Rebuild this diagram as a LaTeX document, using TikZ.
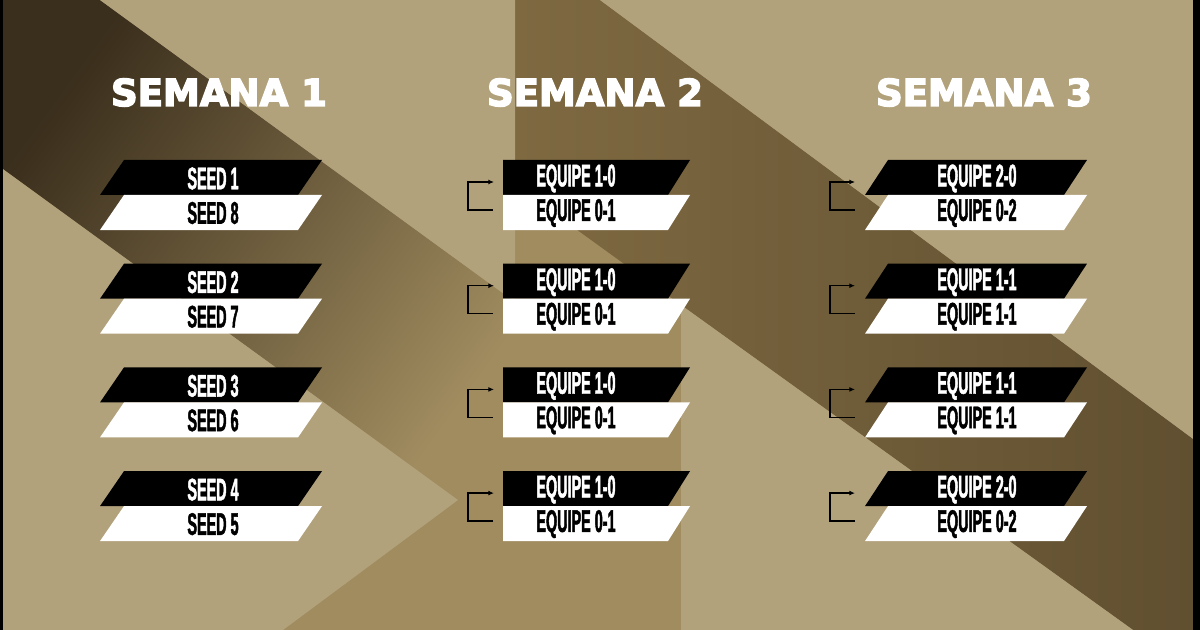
\documentclass[tikz,border=0pt]{standalone}
\usepackage{fontspec}
\usepackage{tikz}
\usetikzlibrary{arrows.meta, calc}
\newfontfamily\headfont[FakeBold=4]{DejaVu Sans Bold}
\newfontfamily\slotfont[FakeStretch=0.46, FakeBold=1.4]{Liberation Sans Bold}
\definecolor{LightColor}{RGB}{178,162,124}
\definecolor{MidColor}{RGB}{160,140,95}
\definecolor{DarkColor}{RGB}{58,46,28}
\definecolor{BandColor}{RGB}{126,105,65}
\definecolor{GoldColor}{RGB}{168,145,94}
\definecolor{DeepColor}{RGB}{96,79,48}
\tikzstyle{heading} = [inner sep=0pt, text=white, font=\headfont\fontsize{52.7}{53}\selectfont]
\tikzstyle{toptext} = [inner sep=0pt, text=white, font=\slotfont\fontsize{44.5}{45}\selectfont]
\tikzstyle{bottext} = [inner sep=0pt, text=black, font=\slotfont\fontsize{44.5}{45}\selectfont]
\tikzstyle{link} = [line width=1.8pt, black, -{Latex[length=8pt,width=7pt]}]
\begin{document}
\begin{tikzpicture}[x=0.5mm, y=-0.5mm]
    \useasboundingbox (0,0) rectangle (1200,630);

    % Background
    \fill[MidColor] (0,0) rectangle (1200,630);
    \shade[top color=DarkColor, middle color=MidColor!70!DarkColor, bottom color=MidColor, shading angle=54]
        (0,0) -- (100,0) -- (515,302) -- (515,500) -- (458,500) -- (0,167) -- cycle;
    \shade[left color=BandColor, middle color=GoldColor, right color=DeepColor]
        (515,0) -- (600,0) -- (1200,444) -- (1200,630) -- (1133,630) -- (681,305) -- (515,185) -- cycle;
    \fill[LightColor] (100,0) -- (515,0) -- (515,302) -- cycle;
    \fill[LightColor] (0,167) -- (458,500) -- (283,630) -- (0,630) -- cycle;
    \fill[LightColor] (681,305) -- (1133,630) -- (681,630) -- cycle;
    \fill[LightColor] (600,0) -- (1200,0) -- (1200,444) -- cycle;

    % Frame
    \fill[black] (0,0) rectangle (3,630);
    \fill[black] (1193,0) rectangle (1200,630);

    % Headings
    \node[heading] (week1) at (219,92.5) {SEMANA 1};
    \node[heading] (week2) at (595,92.5) {SEMANA 2};
    \node[heading] (week3) at (984,92.5) {SEMANA 3};

    % Semana 1
    \foreach \i/\teamA/\teamB in {0/SEED 1/SEED 8, 1/SEED 2/SEED 7, 2/SEED 3/SEED 6, 3/SEED 4/SEED 5} {
        \pgfmathsetmacro{\y}{160+103.7*\i}
        \fill[black] (124,\y) -- (322,\y) -- (298,\y+35) -- (100,\y+35) -- cycle;
        \fill[white] (124,\y+35) -- (322,\y+35) -- (298,\y+70) -- (100,\y+70) -- cycle;
        \node[toptext] (w1-\i-top) at (213,\y+18.5) {\teamA};
        \node[bottext] (w1-\i-bot) at (213,\y+53) {\teamB};
    }

    % Semana 2
    \foreach \i/\teamA/\teamB in {0/EQUIPE 1-0/EQUIPE 0-1, 1/EQUIPE 1-0/EQUIPE 0-1, 2/EQUIPE 1-0/EQUIPE 0-1, 3/EQUIPE 1-0/EQUIPE 0-1} {
        \pgfmathsetmacro{\y}{160+103.7*\i}
        \fill[black] (503,\y) -- (690,\y) -- (668,\y+35) -- (503,\y+35) -- cycle;
        \fill[white] (503,\y+35) -- (690,\y+35) -- (668,\y+70) -- (503,\y+70) -- cycle;
        \node[toptext] (w2-\i-top) at (576,\y+18.5) {\teamA};
        \node[bottext] (w2-\i-bot) at (576,\y+53) {\teamB};
        \coordinate (w2-\i-from) at (493,\y+50);
        \coordinate (w2-\i-to) at (494,\y+22);
        \draw[link] (w2-\i-from) -- ++(-25,0) |- (w2-\i-to);
    }

    % Semana 3
    \foreach \i/\teamA/\teamB in {0/EQUIPE 2-0/EQUIPE 0-2, 1/EQUIPE 1-1/EQUIPE 1-1, 2/EQUIPE 1-1/EQUIPE 1-1, 3/EQUIPE 2-0/EQUIPE 0-2} {
        \pgfmathsetmacro{\y}{160+103.7*\i}
        \fill[black] (888,\y) -- (1087,\y) -- (1064,\y+35) -- (865,\y+35) -- cycle;
        \fill[white] (888,\y+35) -- (1087,\y+35) -- (1064,\y+70) -- (865,\y+70) -- cycle;
        \node[toptext] (w3-\i-top) at (977,\y+18.5) {\teamA};
        \node[bottext] (w3-\i-bot) at (977,\y+53) {\teamB};
        \coordinate (w3-\i-from) at (855,\y+50);
        \coordinate (w3-\i-to) at (855,\y+22);
        \draw[link] (w3-\i-from) -- ++(-25,0) |- (w3-\i-to);
    }
\end{tikzpicture}
\end{document}
